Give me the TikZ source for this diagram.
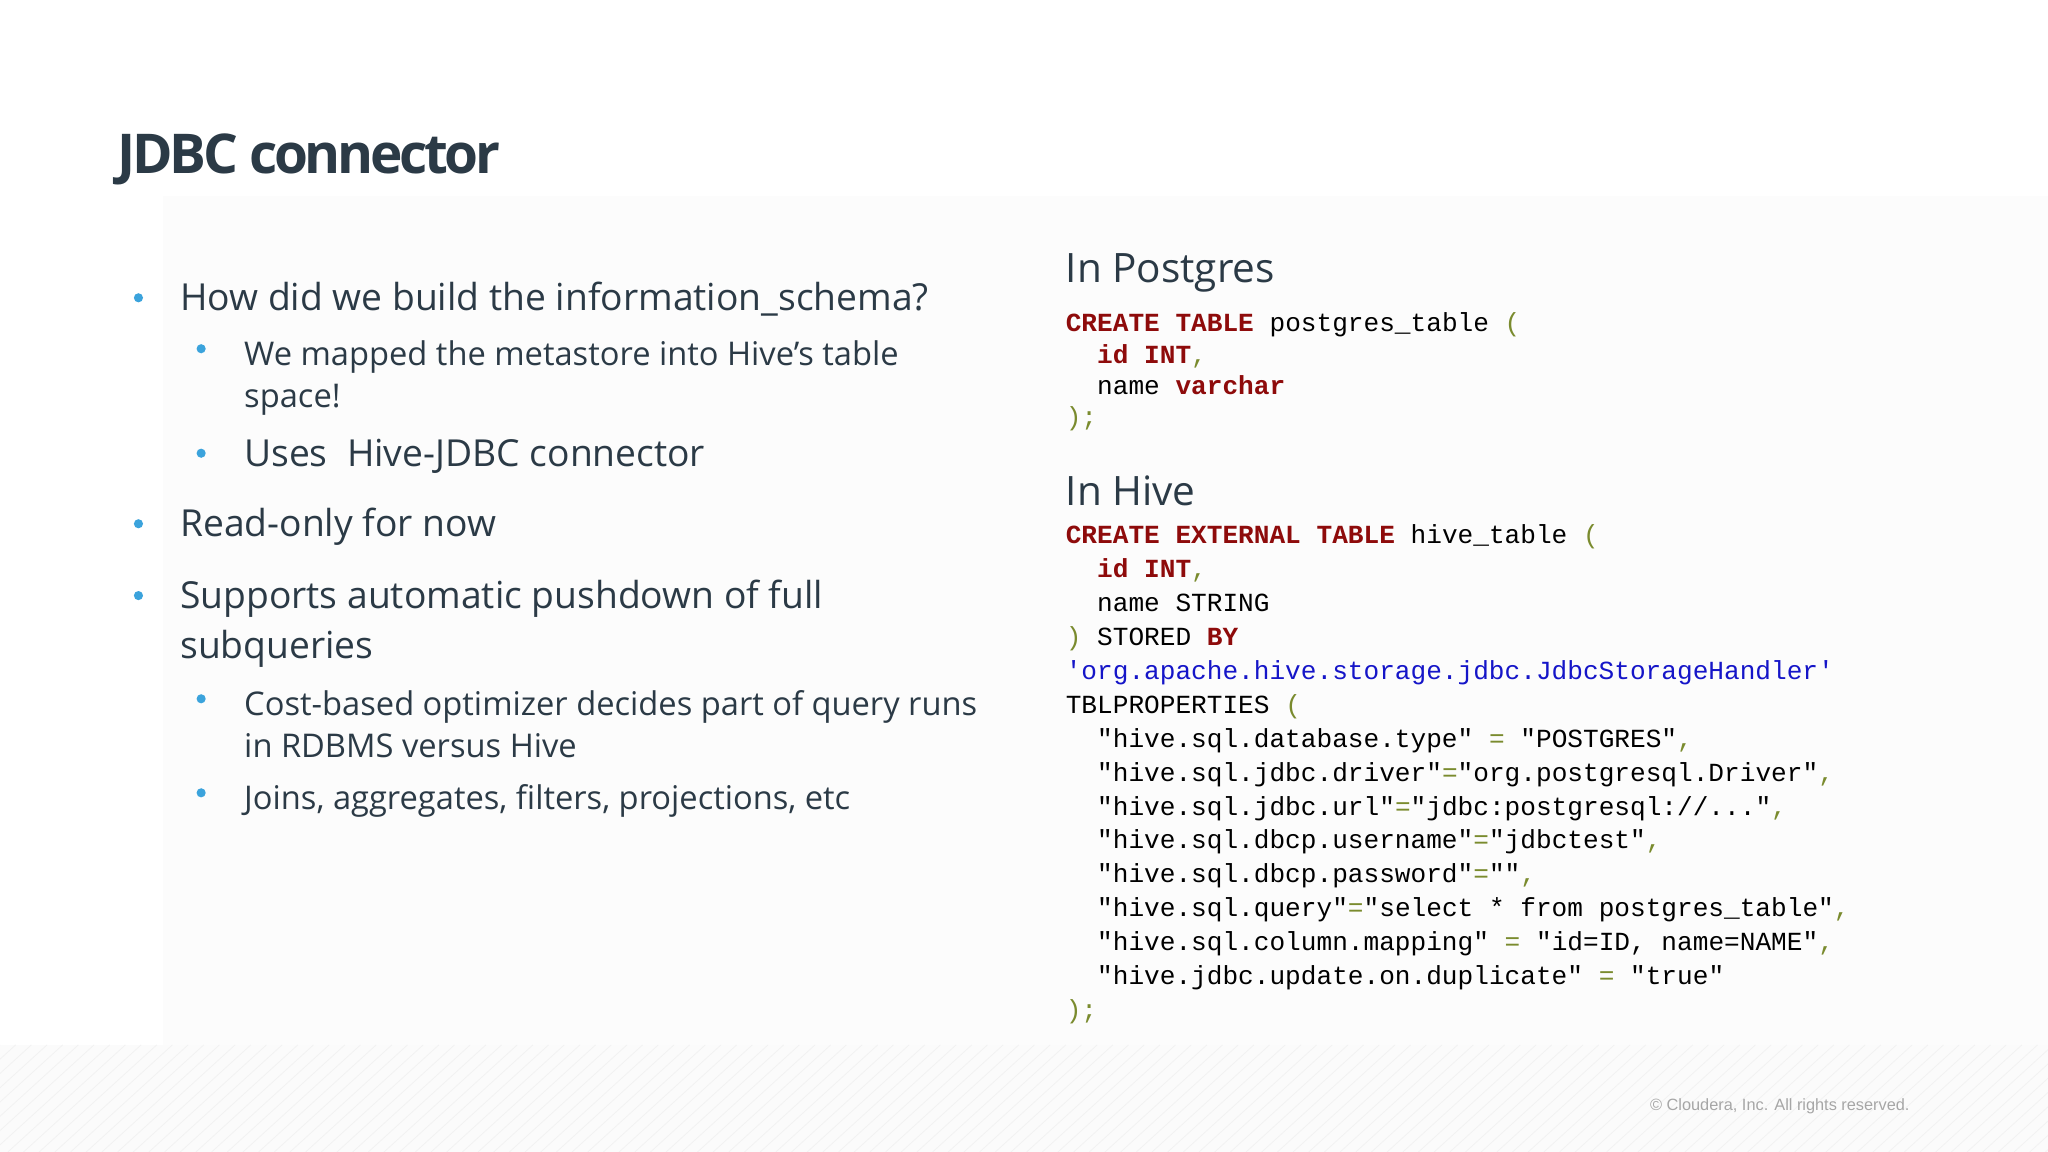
\documentclass[tikz,border=0pt]{standalone}
\usepackage{fontspec}
\setmainfont{Open Sans}
\newfontfamily\titlefont[LetterSpace=-6]{Open Sans}
\newfontfamily\codefont{Liberation Mono}
\newfontfamily\footfont{Liberation Sans}
\definecolor{txt}{HTML}{2B3A46}
\definecolor{bul}{HTML}{3BA3DC}
\definecolor{kw}{HTML}{8E0B0B}
\definecolor{pun}{HTML}{7A8B2E}
\definecolor{strb}{HTML}{1515C8}
\newcommand{\K}[1]{\textcolor{kw}{\bfseries #1}}
\newcommand{\Pn}[1]{\textcolor{pun}{#1}}
\tikzset{
 every node/.style={anchor=base west,inner sep=0pt,outer sep=0pt},
 mainb/.style={font=\fontsize{28.5}{34}\selectfont,text=txt},
 subb/.style={font=\fontsize{25}{30}\selectfont,text=txt},
 head/.style={font=\fontsize{31}{38}\selectfont,text=txt},
 code/.style={font=\codefont\fontsize{20}{24}\selectfont,text=black},
 dot/.style={circle,fill=bul,inner sep=0pt,minimum size=7pt,anchor=center}
}
\begin{document}
\begin{tikzpicture}[x=1pt,y=-1pt]
\useasboundingbox (0,0) rectangle (1568,882);
\fill[white] (0,0) rectangle (1568,882);
\fill[black!1] (125,150) rectangle (1568,800);
\fill[black!1.5] (0,800) rectangle (1568,882);
\begin{scope}
\clip (0,800) rectangle (1568,882);
\foreach \i in {0,12,...,1660}{\draw[black!5,line width=0.6pt] (\i-90,882) -- (\i,800);}
\end{scope}
\node[font=\titlefont\fontsize{42}{50}\selectfont\bfseries,text=txt] (title) at (90,133) {JDBC connector};
% left bullets
\node[dot] (d1) at (106,228) {};
\node[mainb] (b1) at (138,238) {How did we build the information\_schema?};
\node[dot] (d2) at (154,267) {};
\node[subb] (b2) at (187,280) {We mapped the metastore into Hive’s table};
\node[subb] (b2b) at (187,312) {space!};
\node[dot] (d3) at (154,347) {};
\node[mainb] (b3) at (187,357) {Uses\ \ Hive-JDBC connector};
\node[dot] (d4) at (106,401) {};
\node[mainb] (b4) at (138,411) {Read-only for now};
\node[dot] (d5) at (106,456) {};
\node[mainb] (b5) at (138,466) {Supports automatic pushdown of full};
\node[mainb] (b5b) at (138,504) {subqueries};
\node[dot] (d6) at (154,535) {};
\node[subb] (b6) at (187,548) {Cost-based optimizer decides part of query runs};
\node[subb] (b6b) at (187,580) {in RDBMS versus Hive};
\node[dot] (d7) at (154,607) {};
\node[subb] (b7) at (187,620) {Joins, aggregates, filters, projections, etc};
% right
\node[head] (hp) at (816,216) {In Postgres};
\node[code] (p1) at (816,254) {\K{CREATE TABLE} postgres\_table \Pn{(}};
\node[code] (p2) at (816,278) {\ \ \K{id INT}\Pn{,}};
\node[code] (p3) at (816,302) {\ \ name \K{varchar}};
\node[code] (p4) at (816,326) {\Pn{);}};
\node[head] (hh) at (816,387) {In Hive};
\node[code] (h1) at (816,416) {\K{CREATE EXTERNAL TABLE} hive\_table \Pn{(}};
\node[code] (h2) at (816,442) {\ \ \K{id INT}\Pn{,}};
\node[code] (h3) at (816,468) {\ \ name STRING};
\node[code] (h4) at (816,494) {\Pn{)} STORED \K{BY}};
\node[code] (h5) at (816,520) {\textcolor{strb}{'org.apache.hive.storage.jdbc.JdbcStorageHandler'}};
\node[code] (h6) at (816,546) {TBLPROPERTIES \Pn{(}};
\node[code] (h7) at (816,572) {\ \ "hive.sql.database.type" \Pn{=} "POSTGRES"\Pn{,}};
\node[code] (h8) at (816,598) {\ \ "hive.sql.jdbc.driver"\Pn{=}"org.postgresql.Driver"\Pn{,}};
\node[code] (h9) at (816,624) {\ \ "hive.sql.jdbc.url"\Pn{=}"jdbc:postgresql://..."\Pn{,}};
\node[code] (h10) at (816,650) {\ \ "hive.sql.dbcp.username"\Pn{=}"jdbctest"\Pn{,}};
\node[code] (h11) at (816,676) {\ \ "hive.sql.dbcp.password"\Pn{=}""\Pn{,}};
\node[code] (h12) at (816,702) {\ \ "hive.sql.query"\Pn{=}"select * from postgres\_table"\Pn{,}};
\node[code] (h13) at (816,728) {\ \ "hive.sql.column.mapping" \Pn{=} "id=ID, name=NAME"\Pn{,}};
\node[code] (h14) at (816,754) {\ \ "hive.jdbc.update.on.duplicate" \Pn{=} "true"};
\node[code] (h15) at (816,780) {\Pn{);}};
\node[font=\footfont\fontsize{12.5}{14}\selectfont,text=black!35,anchor=base east] (foot) at (1462,850) {© Cloudera, Inc. All rights reserved.};
\end{tikzpicture}
\end{document}
